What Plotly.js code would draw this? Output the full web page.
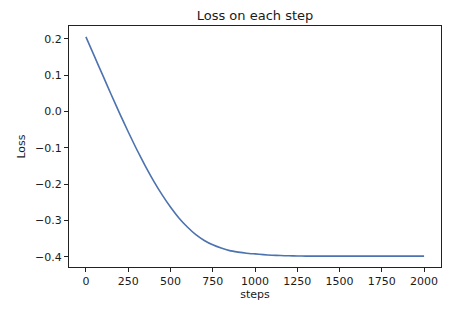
<!DOCTYPE html>
<html>
<head>
<meta charset="utf-8">
<script src="https://cdn.plot.ly/plotly-3.0.1.min.js"></script>
<style>html,body{margin:0;padding:0;background:#fff;}#chart{width:474px;height:315px;}</style>
</head>
<body>
<div id="chart"></div>
<script>
const steps = [0,50,100,150,200,250,300,350,400,450,500,550,600,650,700,750,800,850,900,950,1000,1050,1100,1150,1200,1250,1300,1400,1500,1600,1700,1800,1900,2000];
const loss = [0.205,0.152,0.099,0.046,-0.006,-0.056,-0.104,-0.149,-0.191,-0.229,-0.263,-0.293,-0.318,-0.339,-0.355,-0.367,-0.376,-0.383,-0.387,-0.390,-0.392,-0.394,-0.3955,-0.3965,-0.3972,-0.3977,-0.398,-0.398,-0.398,-0.398,-0.398,-0.398,-0.398,-0.398];
const titleText = "Loss on each step";
const xTitle = "steps";
const yTitle = "Loss";

const font = {family: "DejaVu Sans, sans-serif", size: 11, color: "#1a1a1a"};
const axisCommon = {
  showline: true, mirror: true, linecolor: "#222", linewidth: 1,
  ticks: "outside", ticklen: 4, tickwidth: 1, tickcolor: "#222",
  showgrid: false, zeroline: false, tickfont: font
};
Plotly.newPlot("chart", [{
  x: steps, y: loss, type: "scatter", mode: "lines",
  line: {color: "#4c72b0", width: 1.6, shape: "spline", smoothing: 0.6}
}], {
  width: 474, height: 315,
  margin: {l: 69, r: 33, t: 26, b: 48},
  paper_bgcolor: "#fff", plot_bgcolor: "#fff",
  showlegend: false,
  font: font,
  title: {text: titleText, font: {family: "DejaVu Sans, sans-serif", size: 13, color: "#1a1a1a"},
          x: 0.5, xref: "paper", xanchor: "center", y: 1 - 15/315, yref: "container", yanchor: "middle"},
  xaxis: Object.assign({}, axisCommon, {range: [-100, 2100], tickmode: "linear", tick0: 0, dtick: 250,
    title: {text: xTitle, font: font, standoff: 3}}),
  yaxis: Object.assign({}, axisCommon, {range: [-0.428, 0.235], tickmode: "linear", tick0: 0, dtick: 0.1, tickformat: ".1f",
    title: {text: yTitle, font: font, standoff: 7}})
}, {displayModeBar: false, staticPlot: true});
</script>
</body>
</html>
